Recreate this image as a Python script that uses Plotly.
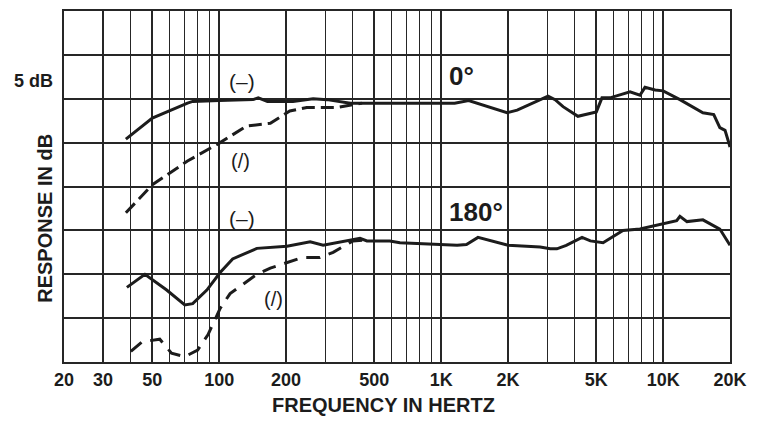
import math
import plotly.graph_objects as go

# ---- data (frequency in Hz, response in dB; one grid division = 5 dB) ----
freq_0_solid = [38, 50, 72, 76, 100, 142, 150, 165, 215, 265, 306, 390, 600, 1150, 1330,
                1980, 2200, 3030, 3260, 3540, 4130, 5000, 5300, 5760, 7090, 7860, 8280,
                9200, 10000, 11900, 15100, 16900, 18000, 19000, 19800, 20000]
db_0_solid = [25.4, 27.8, 29.5, 29.7, 29.8, 29.9, 30.1, 29.7, 29.7, 30.0, 29.9, 29.5, 29.5,
              29.5, 29.8, 28.4, 28.7, 30.3, 29.9, 29.1, 28.0, 28.5, 30.1, 30.1, 30.8, 30.4,
              31.3, 31.0, 30.9, 29.9, 28.4, 28.2, 26.7, 26.4, 24.9, 24.5]

freq_0_dash = [38, 50, 72, 101, 133, 170, 208, 248, 340, 401, 440]
db_0_dash = [17.0, 20.2, 22.9, 25.0, 26.9, 27.2, 28.6, 29.0, 29.0, 29.3, 29.5]

freq_180_solid = [38.4, 46.3, 58, 70, 76, 88, 101, 115, 148, 202, 257, 294, 431, 463, 587,
                  652, 1180, 1300, 1465, 2000, 2790, 3100, 3320, 3660, 4310, 4700, 5360,
                  6590, 7860, 10400, 11500, 11900, 12800, 15100, 18000, 20000]
db_180_solid = [8.5, 10.0, 8.2, 6.5, 6.65, 8.2, 10.2, 11.75, 12.95, 13.2, 13.7, 13.3, 14.1,
                13.8, 13.8, 13.6, 13.3, 13.4, 14.2, 13.3, 13.1, 12.9, 12.9, 13.3, 14.2, 13.8,
                13.6, 15.0, 15.15, 15.9, 16.1, 16.6, 16.0, 16.2, 15.15, 13.3]

freq_180_dash = [40, 45, 54, 61, 70, 80, 89, 101, 112, 128, 148, 170, 202, 236, 284, 326, 401, 455]
db_180_dash = [1.2, 2.3, 2.6, 1.0, 0.6, 1.36, 3.1, 6.1, 7.8, 8.9, 10.0, 10.7, 11.3, 11.9,
               11.9, 12.5, 13.8, 13.9]

major_ticks = [20, 30, 50, 100, 200, 500, 1000, 2000, 5000, 10000, 20000]
major_labels = ["20", "30", "50", "100", "200", "500", "1K", "2K", "5K", "10K", "20K"]
minor_ticks = [40, 60, 70, 80, 90, 300, 400, 600, 700, 800, 900,
               3000, 4000, 6000, 7000, 8000, 9000]

FONT = "Liberation Sans, Arial, sans-serif"
INK = "#1c1c1c"
GRID = "#262626"

fig = go.Figure()
fig.add_trace(go.Scatter(x=freq_0_solid, y=db_0_solid, mode="lines",
                         line=dict(color=INK, width=3)))
fig.add_trace(go.Scatter(x=freq_0_dash, y=db_0_dash, mode="lines",
                         line=dict(color=INK, width=3, dash="13px,6px")))
fig.add_trace(go.Scatter(x=freq_180_solid, y=db_180_solid, mode="lines",
                         line=dict(color=INK, width=3)))
fig.add_trace(go.Scatter(x=freq_180_dash, y=db_180_dash, mode="lines",
                         line=dict(color=INK, width=3, dash="14px,9px")))

fig.update_layout(
    width=768, height=430,
    margin=dict(l=64, r=38, t=9, b=68),
    paper_bgcolor="white", plot_bgcolor="white",
    showlegend=False,
    font=dict(family=FONT, color=INK),
    xaxis=dict(
        type="log", range=[math.log10(20), math.log10(20000)],
        tickmode="array", tickvals=major_ticks, ticktext=major_labels,
        tickfont=dict(size=18, family=FONT, weight="bold"),
        showgrid=True, gridcolor=GRID, gridwidth=2,
        minor=dict(tickmode="array", tickvals=minor_ticks, showgrid=True,
                   gridcolor=GRID, gridwidth=1.3, ticks=""),
        showline=True, linecolor=GRID, linewidth=2, mirror=True,
        ticks="", zeroline=False,
    ),
    yaxis=dict(
        range=[0, 40], tickmode="linear", tick0=0, dtick=5,
        showticklabels=False, showgrid=True, gridcolor=GRID, gridwidth=2,
        showline=True, linecolor=GRID, linewidth=2, mirror=True,
        ticks="", zeroline=False,
    ),
)

def lx(f):
    return math.log10(f)

annos = [
    dict(x=lx(127), y=32.0, text="(–)", size=21, bold=False),
    dict(x=lx(125), y=22.9, text="(/)", size=20, bold=False),
    dict(x=lx(127), y=16.4, text="(–)", size=21, bold=False),
    dict(x=lx(176), y=7.2, text="(/)", size=20, bold=False),
    dict(x=lx(1240), y=32.6, text="0°", size=26, bold=True),
    dict(x=lx(1435), y=17.1, text="180°", size=26, bold=True),
]
for a in annos:
    fig.add_annotation(x=a["x"], y=a["y"], xref="x", yref="y", text=a["text"],
                       showarrow=False, xanchor="center", yanchor="middle",
                       font=dict(size=a["size"], family=FONT, color=INK,
                                 weight="bold" if a["bold"] else "normal"))

fig.add_annotation(x=(33 - 64) / 666, y=32.0, xref="paper", yref="y", text="5 dB",
                   showarrow=False, xanchor="center", yanchor="middle",
                   font=dict(size=18, family=FONT, color=INK, weight="bold"))
fig.add_annotation(x=(45 - 64) / 666, y=(362 - 218) / 353, xref="paper", yref="paper",
                   text="RESPONSE IN dB", textangle=-90, showarrow=False,
                   xanchor="center", yanchor="middle",
                   font=dict(size=20, family=FONT, color=INK, weight="bold"))
fig.add_annotation(x=(383 - 64) / 666, y=(362 - 405) / 353, xref="paper", yref="paper",
                   text="FREQUENCY IN HERTZ", showarrow=False,
                   xanchor="center", yanchor="middle",
                   font=dict(size=20, family=FONT, color=INK, weight="bold"))

fig.write_html("out.html")
